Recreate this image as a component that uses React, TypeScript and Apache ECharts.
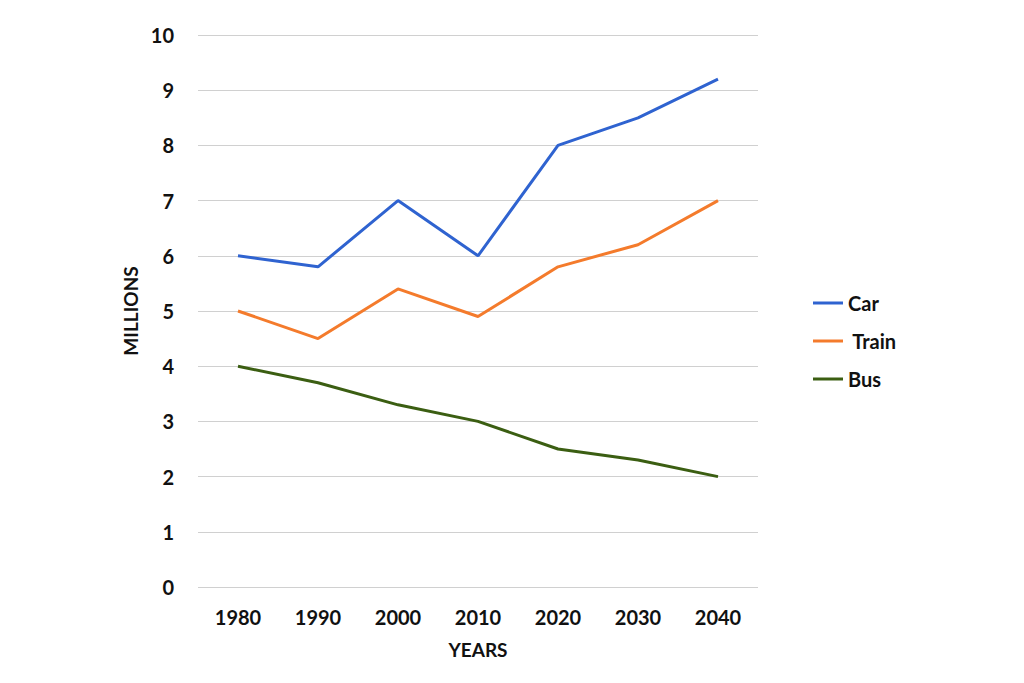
import React, { useEffect, useRef } from "react";
import * as echarts from "echarts";

const years = ["1980", "1990", "2000", "2010", "2020", "2030", "2040"];
const carValues = [6, 5.8, 7, 6, 8, 8.5, 9.2];
const trainValues = [5, 4.5, 5.4, 4.9, 5.8, 6.2, 7];
const busValues = [4, 3.7, 3.3, 3, 2.5, 2.3, 2];
const seriesNames = ["Car", " Train", "Bus"];
const seriesColors = ["#2F63D0", "#F47B2C", "#3B5E12"];

export default function App() {
  const ref = useRef<HTMLDivElement>(null);
  useEffect(() => {
    if (!ref.current) return;
    const chart = echarts.init(ref.current, undefined, { renderer: "svg" });
    const font = "Lato, 'Open Sans', sans-serif";
    const values = [carValues, trainValues, busValues];
    chart.setOption({
      animation: false,
      backgroundColor: "#ffffff",
      textStyle: { fontFamily: font },
      grid: { left: 198, right: 266, top: 35, bottom: 96 },
      legend: {
        orient: "vertical",
        left: 808,
        top: 288,
        itemGap: 18,
        itemWidth: 30,
        itemHeight: 3,
        icon: "rect",
        textStyle: { fontFamily: font, fontWeight: 700, fontSize: 20, color: "#111" },
        data: seriesNames,
      },
      xAxis: {
        type: "category",
        data: years,
        boundaryGap: true,
        axisLine: { show: false },
        axisTick: { show: false },
        axisLabel: { margin: 20, fontFamily: font, fontWeight: 700, fontSize: 20, color: "#111" },
        name: "YEARS",
        nameLocation: "middle",
        nameGap: 53,
        nameTextStyle: { fontFamily: font, fontWeight: 700, fontSize: 19, color: "#111" },
      },
      yAxis: {
        type: "value",
        min: 0,
        max: 10,
        interval: 1,
        axisLine: { show: false },
        axisTick: { show: false },
        splitLine: { lineStyle: { color: "#d0d0d0", width: 1 } },
        axisLabel: { margin: 24, fontFamily: font, fontWeight: 700, fontSize: 20, color: "#111" },
        name: "MILLIONS",
        nameLocation: "middle",
        nameRotate: 90,
        nameGap: 58,
        nameTextStyle: { fontFamily: font, fontWeight: 700, fontSize: 19, color: "#111" },
      },
      series: seriesNames.map((n, i) => ({
        name: n,
        type: "line",
        data: values[i],
        symbol: "none",
        color: seriesColors[i],
        lineStyle: { width: 3, color: seriesColors[i] },
      })),
    });
    return () => chart.dispose();
  }, []);
  return (
    <div
      ref={ref}
      style={{ position: "fixed", left: 0, top: 0, width: 1024, height: 683, background: "#fff" }}
    />
  );
}
